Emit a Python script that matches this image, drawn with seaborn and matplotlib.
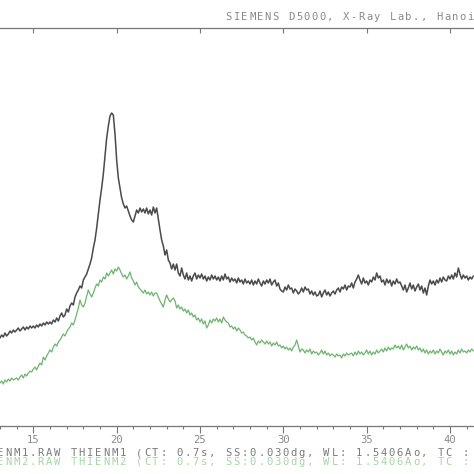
import numpy as np
import pandas as pd
import matplotlib
matplotlib.use("Agg")
import matplotlib.pyplot as plt
from matplotlib.ticker import MultipleLocator
import seaborn as sns

# scan grid, 2-theta (deg)
start_angle, stop_angle, step_angle = 13.0, 41.4, 0.1

# THIENM1 intensity (counts), one value per 0.1 deg from 13.0
thienm1 = [
    88, 91, 89, 93, 90, 92, 95, 93, 96, 94,
    96, 98, 95, 97, 99, 96, 99, 97, 100, 98,
    100, 98, 101, 99, 102, 100, 103, 101, 104, 102,
    104, 102, 106, 104, 108, 105, 110, 113, 109, 111,
    117, 114, 120, 123, 121, 129, 133, 136, 140, 138,
    146, 149, 152, 157, 162, 168, 178, 186, 198, 212,
    226, 238, 252, 270, 288, 300, 310, 313, 311, 292,
    266, 248, 238, 228, 222, 218, 220, 215, 210, 206,
    204, 210, 216, 213, 218, 214, 217, 213, 218, 212,
    216, 211, 219, 213, 218, 207, 196, 186, 180, 171,
    176, 166, 163, 157, 162, 156, 162, 153, 150, 158,
    151, 147, 153, 146, 150, 145, 150, 153, 147, 151,
    148, 152, 147, 150, 145, 149, 146, 151, 147, 150,
    146, 149, 145, 150, 146, 152, 147, 149, 144, 148,
    145, 147, 143, 148, 144, 146, 142, 147, 143, 145,
    142, 146, 141, 145, 142, 147, 143, 140, 145, 142,
    146, 143, 147, 141, 144, 146, 140, 143, 137, 135,
    134, 139, 136, 141, 137, 138, 133, 137, 135, 132,
    134, 138, 134, 139, 136, 137, 132, 135, 131, 134,
    130, 131, 135, 129, 133, 136, 131, 134, 130, 133,
    135, 132, 136, 138, 134, 139, 137, 141, 136, 140,
    139, 143, 138, 144, 147, 151, 146, 142, 148, 143,
    145, 141, 146, 144, 149, 146, 153, 148, 150, 144,
    146, 141, 147, 143, 146, 140, 145, 142, 147, 143,
    144, 140, 136, 141, 134, 138, 143, 137, 141, 135,
    139, 142, 136, 140, 133, 138, 131, 140, 146, 142,
    145, 141, 146, 143, 148, 144, 149, 146, 145, 150,
    147, 151, 147, 153, 149, 158, 152, 147, 151, 148,
    150, 146, 149, 147, 150,
]

# THIENM2 intensity (counts)
thienm2 = [
    43, 45, 42, 46, 44, 47, 45, 48, 46, 47,
    48, 46, 49, 51, 48, 52, 50, 53, 55, 54,
    57, 59, 56, 60, 63, 61, 69, 66, 70, 73,
    76, 74, 79, 82, 80, 84, 86, 89, 92, 90,
    94, 97, 99, 103, 101, 106, 112, 118, 126, 121,
    119, 123, 130, 136, 132, 129, 133, 138, 142, 140,
    146, 144, 149, 147, 153, 150, 153, 156, 152, 157,
    155, 159, 156, 152, 149, 151, 147, 150, 154, 148,
    145, 141, 144, 139, 137, 135, 133, 136, 132, 134,
    131, 134, 130, 133, 133, 129, 125, 122, 119, 126,
    131, 127, 124, 126, 128, 125, 118, 121, 117, 119,
    115, 117, 113, 116, 111, 113, 109, 111, 106, 108,
    104, 107, 102, 105, 98, 101, 106, 103, 107, 105,
    108, 104, 107, 103, 109, 106, 104, 103, 99, 100,
    97, 99, 95, 98, 96, 93, 94, 91, 90, 88,
    89, 86, 88, 84, 81, 85, 83, 86, 84, 82,
    85, 82, 84, 80, 83, 81, 84, 80, 81, 78,
    80, 77, 79, 76, 78, 75, 79, 81, 86, 80,
    74, 77, 76, 73, 76, 74, 77, 72, 75, 73,
    74, 71, 73, 76, 72, 75, 71, 73, 70, 72,
    71, 69, 72, 70, 71, 68, 72, 70, 73, 71,
    72, 73, 70, 74, 71, 75, 72, 74, 71, 73,
    76, 72, 75, 71, 74, 72, 76, 73, 75, 77,
    74, 78, 75, 79, 76, 78, 77, 81, 78, 80,
    77, 81, 76, 79, 82, 78, 80, 76, 79, 77,
    80, 76, 78, 74, 77, 73, 76, 72, 75, 73,
    76, 72, 75, 73, 77, 74, 71, 75, 73, 76,
    72, 75, 71, 74, 72, 76, 73, 77, 74, 75,
    73, 76, 74, 77, 75,
]

header = "SIEMENS D5000, X-Ray Lab., Hanoi"
info1 = "ENM1.RAW THIENM1 (CT: 0.7s, SS:0.030dg, WL: 1.5406Ao, TC :"
info2 = "ENM2.RAW THIENM2 (CT: 0.7s, SS:0.030dg, WL: 1.5406Ao, TC :"

angle = np.round(np.arange(start_angle, stop_angle + step_angle / 2, step_angle), 1)
df1 = pd.DataFrame({"two_theta": angle, "counts": thienm1})
df2 = pd.DataFrame({"two_theta": angle, "counts": thienm2})

sns.set_theme(style="white")
plt.rcParams["font.family"] = ["DejaVu Sans Mono"]

W = 474
fig = plt.figure(figsize=(4.74, 4.74), dpi=100)
ax = fig.add_axes([0, 1 - 426 / W, 1, (426 - 28) / W])

sns.lineplot(data=df1, x="two_theta", y="counts", color="#4a4a4a", linewidth=1.1, ax=ax)
sns.lineplot(data=df2, x="two_theta", y="counts", color="#6db56d", linewidth=0.9, ax=ax)

ax.set_xlim(13.0, 41.44)
ax.set_ylim(0, 398)
ax.set_yticks([])
ax.set_xlabel("")
ax.set_ylabel("")
for s in ["left", "right", "top"]:
    ax.spines[s].set_visible(False)
ax.spines["bottom"].set_color("#777777")
ax.spines["bottom"].set_linewidth(0.9)

ax.xaxis.set_major_locator(MultipleLocator(5))
ax.xaxis.set_minor_locator(MultipleLocator(1))
ax.tick_params(axis="x", which="major", direction="out", length=5, width=0.8,
               color="#777777", labelsize=7.6, labelcolor="#8a8a8a", pad=1.5, bottom=True)
ax.tick_params(axis="x", which="minor", direction="out", length=2.2, width=0.8,
               color="#777777", bottom=True)

top = ax.secondary_xaxis("top")
top.set_xticks([15, 20, 25, 30, 35, 40])
top.tick_params(direction="in", length=3.6, width=0.8, color="#777777", labeltop=False)
top.spines["top"].set_color("#777777")
top.spines["top"].set_linewidth(0.9)


def mono_text(s, x0, y, pitch, color):
    # plotter style text: one glyph per fixed cell
    for i, ch in enumerate(s):
        fig.text((x0 + (i + 0.5) * pitch) / W, 1 - y / W, ch, ha="center", va="center",
                 fontsize=7.6, color=color)


mono_text(header, 225, 17, 7.8, "#8a8a8a")
mono_text(info1, -4, 453, 8.16, "#7a7a7a")
mono_text(info2, -4, 462, 8.16, "#a6d6a6")

fig.savefig("out.png", dpi=100)
